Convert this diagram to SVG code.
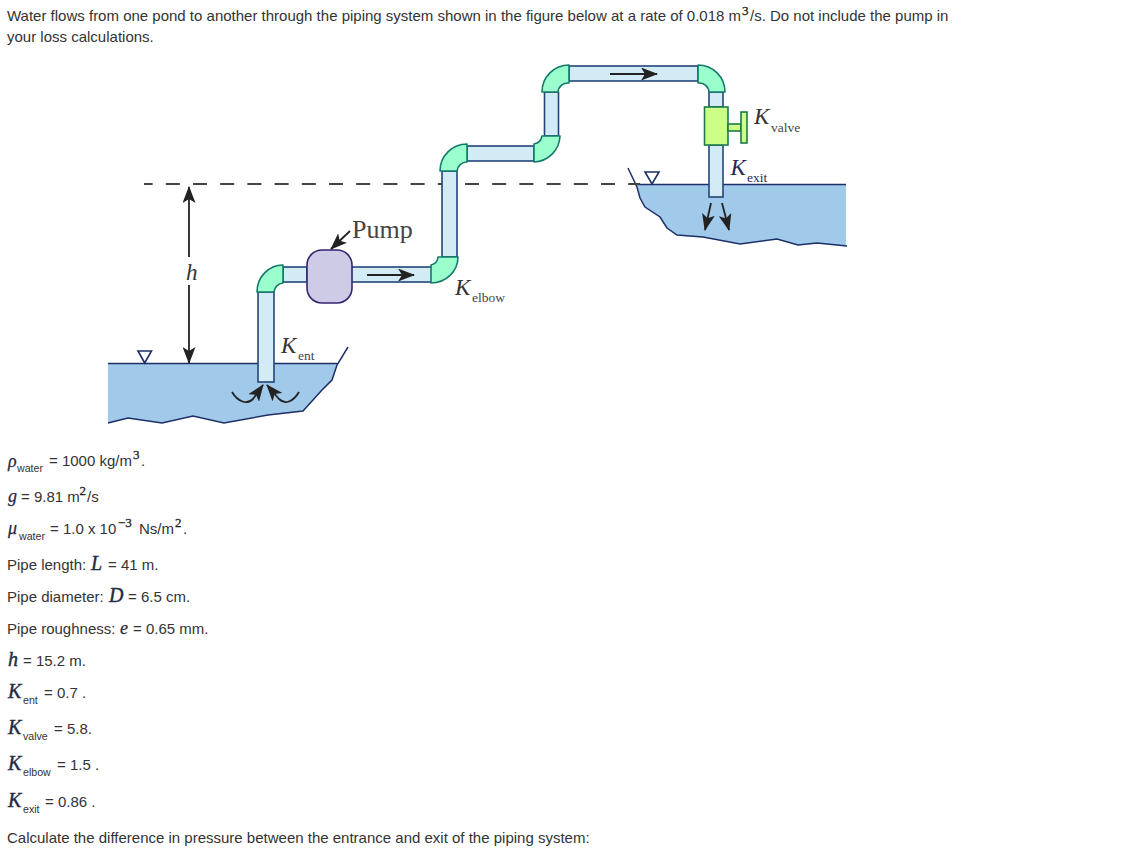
<svg xmlns="http://www.w3.org/2000/svg" width="1133" height="862" viewBox="0 0 1133 862">
<style>
text{font-family:"Liberation Sans",Arial,sans-serif;font-size:15px;fill:#333}
.m{font-family:"Liberation Serif","Times New Roman",serif;font-style:italic;font-size:18px;fill:#1f2a44;stroke:#1f2a44;stroke-width:.25}
.K{font-family:"Liberation Serif","Times New Roman",serif;font-style:italic;font-size:20px;fill:#1f2a44;stroke:#1f2a44;stroke-width:.4}
.sub{font-size:10.6px}
.sup{font-family:"Liberation Serif","Times New Roman",serif;font-size:13px;fill:#222;stroke:#222;stroke-width:.3}
.d{font-family:"Liberation Serif","Times New Roman",serif;fill:#444;font-size:13.500px}
.dk{font-family:"Liberation Serif","Times New Roman",serif;font-style:italic;fill:#333;font-size:23px}
.pipe{fill:#d2ebf5;stroke:#24457a;stroke-width:1.6}
.elbow{fill:#9bffcd;stroke:#137a6a;stroke-width:1.6;stroke-linejoin:round}
.water{fill:#a0c9ea}
.shore{fill:none;stroke:#1c2f66;stroke-width:1.5}
.arr{fill:none;stroke:#222;stroke-width:1.8}
.tri{fill:#fff;stroke:#1c2f66;stroke-width:1.6}
</style>
<defs>
<marker id="ah" viewBox="0 0 17 13" refX="16" refY="6.500" markerWidth="17" markerHeight="13" markerUnits="userSpaceOnUse" orient="auto"><path d="M0 0L17 6.500L0 13L4 6.500Z" fill="#222"/></marker>
</defs>
<g id="problem-text">
<text x="7" y="21">Water flows from one pond to another through the piping system shown in the figure below at a rate of 0.018 m</text>
<text class="sup" x="742" y="15">3</text>
<text x="750" y="21">/s. Do not include the pump in</text>
<text x="7" y="42">your loss calculations.</text>
</g>
<g id="pond-left">
<path class="water" d="M108 364H337L332 380L322 390L303 411L268 415L224 423L193 416L162 423L128 418L108 423Z"/>
<path class="shore" d="M108 423L128 418L162 423L193 416L224 423L268 415L303 411L322 390L332 380L337 365L348 347"/>
<path class="shore" d="M108 363.500H337"/>
<path class="tri" d="M138 351H151.500L144.700 363Z"/>
</g>
<g id="pond-right">
<path class="water" d="M637 185H846V246L817 243L798 245L777 239L740 244L703 237L677 235L667 228L660 217L645 207L640 198Z"/>
<path class="shore" d="M628 168L637 187L640 198L645 207L660 217L667 228L677 235L703 237L740 244L777 239L798 245L817 243L847 246"/>
<path class="shore" d="M637 184.500H846"/>
<path class="tri" d="M645 172H659L652 184Z"/>
</g>
<g id="connectors">
<path d="M144 184H640" fill="none" stroke="#444" stroke-width="2" stroke-dasharray="14 13.200" stroke-dashoffset="5.400"/>
<path class="arr" d="M189 257V187" marker-end="url(#ah)"/>
<path class="arr" d="M189 285V363" marker-end="url(#ah)"/>
<path class="arr" d="M350 231L331 249" marker-end="url(#ah)"/>
</g>
<g id="pipe-system">
<rect class="pipe" x="258" y="292" width="16" height="90"/>
<rect class="pipe" x="283" y="267" width="24" height="15"/>
<rect class="pipe" x="351" y="267" width="81" height="15"/>
<rect class="pipe" x="442" y="171" width="15" height="86"/>
<rect class="pipe" x="467" y="146" width="67" height="15"/>
<rect class="pipe" x="544.500" y="92" width="14" height="44"/>
<rect class="pipe" x="569" y="66" width="129" height="15"/>
<rect class="pipe" x="709" y="92" width="14" height="15"/>
<rect class="pipe" x="709" y="145" width="14" height="52"/>
<path class="elbow" d="M257 292A26 27 0 0 1 283 265V283A10 10 0 0 0 274 292Z"/>
<path class="elbow" d="M431 265V283A27 26 0 0 0 458 257H438A9 9 0 0 1 431 265Z"/>
<path class="elbow" d="M440 171A27 27 0 0 1 467 144V162A10 10 0 0 0 457 171Z"/>
<path class="elbow" d="M534 144V162A27 27 0 0 0 560 136H542A10 10 0 0 1 534 144Z"/>
<path class="elbow" d="M542 92A27 27 0 0 1 569 65V83A10 10 0 0 0 558 92Z"/>
<path class="elbow" d="M698 65A27 27 0 0 1 725 92H709A10 10 0 0 0 698 83Z"/>
<path class="arr" d="M367 275H414" marker-end="url(#ah)"/>
<path class="arr" d="M610 74H657" marker-end="url(#ah)"/>
<path class="arr" d="M232 392C238 402 247 405 253 399L263 385" marker-end="url(#ah)"/>
<path class="arr" d="M299 392C293 402 285 405 279 399L267 385" marker-end="url(#ah)"/>
<path class="arr" d="M711 203L705 230" marker-end="url(#ah)"/>
<path class="arr" d="M722 203L729 230" marker-end="url(#ah)"/>
</g>
<g id="pump"><rect x="307" y="250" width="45" height="53" rx="15" fill="#cdcbe6" stroke="#35236f" stroke-width="1.600"/></g>
<g id="valve">
<rect x="704.500" y="107" width="23.500" height="38" fill="#ccff88" stroke="#1c7a4a" stroke-width="1.600"/>
<rect x="728" y="124" width="13" height="7" fill="#ccff88" stroke="#1c7a4a" stroke-width="1.600"/>
<rect x="741" y="112" width="6" height="31" fill="#ccff88" stroke="#1c7a4a" stroke-width="1.600"/>
</g>
<g id="diagram-labels">
<text class="dk" x="186" y="280">h</text>
<text class="d" x="352" y="238" style="font-size:26px">Pump</text>
<text class="dk" x="281" y="353">K</text><text class="d" x="298" y="360">ent</text>
<text class="dk" x="455" y="295">K</text><text class="d" x="472" y="302">elbow</text>
<text class="dk" x="754" y="124">K</text><text class="d" x="771" y="132">valve</text>
<text class="dk" x="730.500" y="175" style="fill:#1f2a55">K</text><text class="d" x="747" y="182" style="fill:#1f2a55">exit</text>
</g>
<g id="given-values">
<text class="m" x="8" y="467">ρ</text><text class="sub" x="17" y="472">water</text><text x="49" y="466">= 1000 kg/m</text><text class="sup" x="133" y="459">3</text><text x="141" y="466">.</text>
<text class="m" x="8" y="502">g</text><text x="21" y="502">= 9.81 m</text><text class="sup" x="79.500" y="495">2</text><text x="87" y="502">/s</text>
<text class="m" x="8" y="534">μ</text><text class="sub" x="19" y="540">water</text><text x="50" y="534">= 1.0 x 10</text><text class="sup" x="118" y="527">−3</text><text x="139" y="534">Ns/m</text><text class="sup" x="175" y="527">2</text><text x="183" y="534">.</text>
<text x="7" y="570">Pipe length:</text><text class="K" x="91" y="570">L</text><text x="108" y="570">= 41 m.</text>
<text x="7" y="602">Pipe diameter:</text><text class="K" x="109" y="602">D</text><text x="128" y="602">= 6.5 cm.</text>
<text x="7" y="634">Pipe roughness:</text><text class="m" x="120" y="634">e</text><text x="133" y="634">= 0.65 mm.</text>
<text class="K" x="8" y="666">h</text><text x="23" y="666">= 15.2 m.</text>
<text class="K" x="8" y="698">K</text><text class="sub" x="23" y="704">ent</text><text x="44" y="698">= 0.7 .</text>
<text class="K" x="8" y="734">K</text><text class="sub" x="23" y="740">valve</text><text x="54" y="734">= 5.8.</text>
<text class="K" x="8" y="770">K</text><text class="sub" x="23" y="776">elbow</text><text x="57" y="770">= 1.5 .</text>
<text class="K" x="8" y="807">K</text><text class="sub" x="23" y="813">exit</text><text x="45" y="807">= 0.86 .</text>
<text x="7" y="843">Calculate the difference in pressure between the entrance and exit of the piping system:</text>
</g>
</svg>
